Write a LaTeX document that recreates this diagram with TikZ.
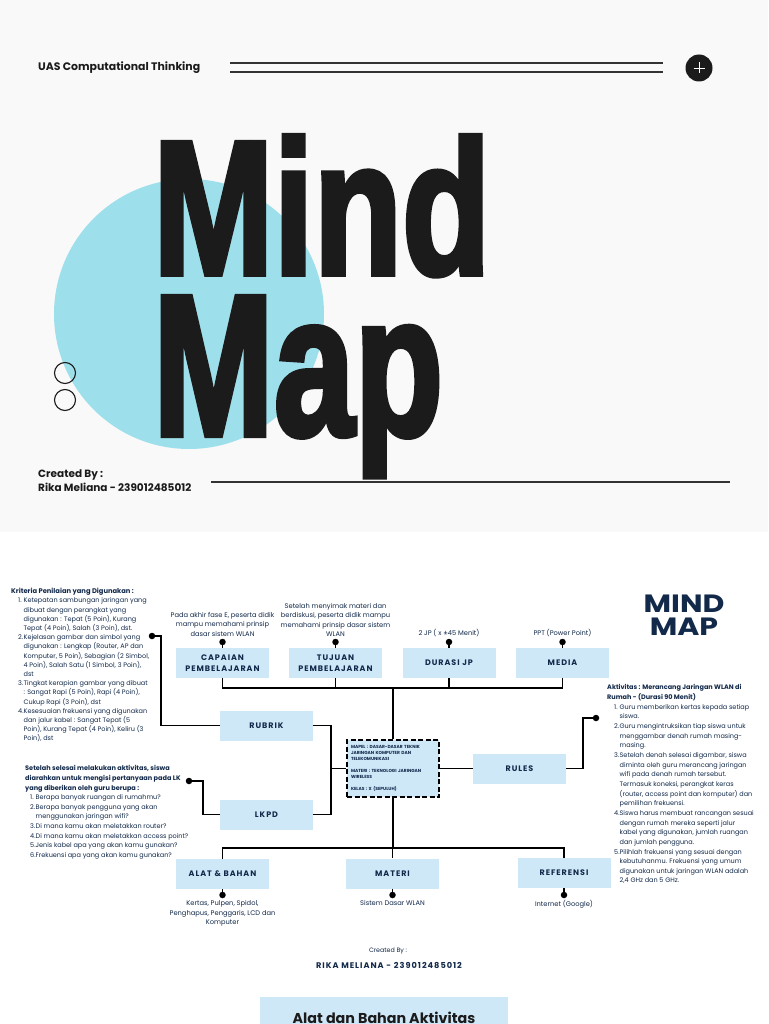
\documentclass[tikz,border=0pt]{standalone}
\usepackage{fontspec}
\setmainfont{Poppins}
\newfontfamily\trackfont{Poppins}[LetterSpace=12]
\newfontfamily\blockfont{Liberation Sans}[FakeBold=3]
\usetikzlibrary{positioning, calc}
\definecolor{navy}{HTML}{12294A}
\definecolor{boxblue}{HTML}{CFE8F8}
\definecolor{discblue}{HTML}{9DE0EC}
\definecolor{coverbg}{HTML}{F9F9F9}
\definecolor{inkblack}{HTML}{1B1B1B}
\definecolor{rulegrey}{HTML}{333333}
\newcommand\labelsize{\fontsize{8}{10.5}\selectfont}
\newcommand\notesize{\fontsize{6.7}{9.3}\selectfont}
\newcommand\coresize{\fontsize{4.4}{6}\selectfont}

\begin{document}
\begin{tikzpicture}[x=1pt, y=-1pt,
    topic/.style={fill=boxblue, minimum width=93pt, minimum height=30pt,
      inner sep=0pt, align=center, text=navy, font=\trackfont\bfseries\labelsize},
    core/.style={fill=boxblue, draw=black, line width=2pt,
      dash pattern=on 5pt off 2.5pt, minimum width=92pt, minimum height=57pt,
      text width=84pt, align=left, inner sep=0pt, text=navy,
      font=\bfseries\coresize},
    link/.style={black, line width=1.6pt},
    knob/.style={circle, fill=black, inner sep=0pt, minimum size=6.5pt},
    note/.style={text=navy, align=center, inner sep=0pt, font=\notesize},
    block/.style={text=navy, inner sep=0pt, anchor=north west}]
  \clip (0,0) rectangle (768,1024);
  \fill[white] (0,0) rectangle (768,1024);

  % cover page
  \fill[coverbg] (0,0) rectangle (768,532);
  \node[anchor=west, inner sep=0pt, text=inkblack,
    font=\bfseries\fontsize{10.9}{12}\selectfont] (course) at (38,68)
    {UAS Computational Thinking};
  \foreach \ry in {63,72}{%
    \draw[rulegrey, line width=1.8pt] (230,\ry) -- (663,\ry);}
  \node[circle, fill=inkblack, minimum size=27pt, inner sep=0pt] (plus) at (699,68) {};
  \draw[white, line width=0.6pt] ($(plus)+(-5.5,0)$) -- ($(plus)+(5.5,0)$);
  \draw[white, line width=0.6pt] ($(plus)+(0,-5.5)$) -- ($(plus)+(0,5.5)$);
  \fill[discblue] (189,314) circle[radius=135];
  \foreach \cy in {373,400}{%
    \draw[inkblack, line width=1.1pt] (65,\cy) circle[radius=10.5];}
  \node[anchor=base west, inner sep=0pt, text=inkblack] (mind) at (153,274)
    {\resizebox{337pt}{138pt}{\blockfont\bfseries Mind}};
  \node[anchor=base west, inner sep=0pt, text=inkblack] (map) at (153,435)
    {\resizebox{290pt}{138pt}{\blockfont\bfseries Map}};
  \node[anchor=west, inner sep=0pt, align=left, text=inkblack,
    font=\bfseries\fontsize{10.5}{14}\selectfont] (author) at (38,481)
    {Created By :\\Rika Meliana - 239012485012};
  \draw[rulegrey, line width=1.5pt] (211,482) -- (730,482);

  % mind map page
  \node[align=center, inner sep=0pt, text=navy,
    font=\bfseries\fontsize{25}{23}\selectfont] (title) at (684,615)
    {\scalebox{1.2}[1]{MIND}\\\scalebox{1.2}[1]{MAP}};

  \node[topic] (capaian) at (222.5,663) {CAPAIAN\\PEMBELAJARAN};
  \node[topic] (tujuan) at (335.5,663) {TUJUAN\\PEMBELAJARAN};
  \node[topic] (durasi) at (449,663) {DURASI JP};
  \node[topic] (media) at (562.5,663) {MEDIA};
  \node[knob] (capdot) at (222.5,642) {};
  \node[knob] (tujdot) at (335.5,642) {};
  \node[knob] (durdot) at (449,642) {};
  \node[knob] (meddot) at (562.5,642) {};
  \node[note, above=2pt of capdot] (capnote)
    {Pada akhir fase E, peserta didik\\mampu memahami prinsip\\dasar sistem WLAN};
  \node[note, above=2pt of tujdot] (tujnote)
    {Setelah menyimak materi dan\\berdiskusi, peserta didik mampu\\memahami prinsip dasar sistem\\WLAN};
  \node[note, above=2pt of durdot] (durnote) {2 JP ( x ±45 Menit)};
  \node[note, above=2pt of meddot] (mednote) {PPT (Power Point)};
  \foreach \d/\b in {capdot/capaian, tujdot/tujuan, durdot/durasi, meddot/media}{%
    \draw[link] (\d.center) -- (\b.north);}

  \node[core] (core) at (393,768.5)
    {MAPEL : DASAR-DASAR TEKNIK\\JARINGAN KOMPUTER DAN\\TELEKOMUNIKASI\\[6pt]
     MATERI : TEKNOLOGI JARINGAN\\WIRELESS\\[6pt]KELAS : X (SEPULUH)};
  \coordinate (topbus) at (393,688);
  \draw[link] (capaian.south) -- (capaian.south |- topbus)
    -- (media.south |- topbus) -- (media.south);
  \draw[link] (tujuan.south) -- (tujuan.south |- topbus);
  \draw[link] (durasi.south) -- (durasi.south |- topbus);
  \draw[link] (topbus) -- (core.north);

  \node[topic] (rubrik) at (266.5,725.5) {RUBRIK};
  \node[topic] (lkpd) at (266.5,814.5) {LKPD};
  \node[topic] (rules) at (519.5,768.5) {RULES};
  \coordinate (ljoint) at (331,768.5);
  \draw[link] (rubrik.east) -| (ljoint) |- (lkpd.east);
  \draw[link] (ljoint) -- (core.west);
  \draw[link] (core.east) -- (rules.west);

  \node[knob] (rubdot) at (152,636) {};
  \node[knob] (lkdot) at (189,781) {};
  \node[knob] (ruldot) at (596,718) {};
  \draw[link] (rubdot.center) -- ++(9,0) |- (rubrik.west);
  \draw[link] (lkdot.center) -- ++(14,0) |- (lkpd.west);
  \draw[link] (ruldot.center) -- ++(-13,0) |- (rules.east);

  \node[block, font=\fontsize{6.5}{9.2}\selectfont] (kriteria) at (11,587) {%
    \begin{tabular}{@{\hspace{7pt}}l@{}l@{}}
    \multicolumn{2}{@{}l@{}}{\bfseries\fontsize{6.75}{9.2}\selectfont Kriteria Penilaian yang Digunakan :}\\
    1.&Ketepatan sambungan jaringan yang\\
    &dibuat dengan perangkat yang\\
    &digunakan : Tepat (5 Poin), Kurang\\
    &Tepat (4 Poin), Salah (3 Poin), dst.\\
    2.&Kejelasan gambar dan simbol yang\\
    &digunakan : Lengkap (Router, AP dan\\
    &Komputer, 5 Poin), Sebagian (2 Simbol,\\
    &4 Poin), Salah Satu (1 Simbol, 3 Poin),\\
    &dst\\
    3.&Tingkat kerapian gambar yang dibuat\\
    &: Sangat Rapi (5 Poin), Rapi (4 Poin),\\
    &Cukup Rapi (3 Poin), dst\\
    4.&Kesesuaian frekuensi yang digunakan\\
    &dan jalur kabel : Sangat Tepat (5\\
    &Poin), Kurang Tepat (4 Poin), Keliru (3\\
    &Poin), dst
    \end{tabular}};
  \node[block, font=\fontsize{6.5}{9.6}\selectfont] (lkquest) at (25,764) {%
    \begin{tabular}{@{\hspace{5pt}}l@{}l@{}}
    \multicolumn{2}{@{}l@{}}{\bfseries\fontsize{6.55}{9.6}\selectfont Setelah selesai melakukan aktivitas, siswa}\\
    \multicolumn{2}{@{}l@{}}{\bfseries\fontsize{6.55}{9.6}\selectfont diarahkan untuk mengisi pertanyaan pada LK}\\
    \multicolumn{2}{@{}l@{}}{\bfseries\fontsize{6.55}{9.6}\selectfont yang diberikan oleh guru berupa :}\\
    1.&Berapa banyak ruangan di rumahmu?\\
    2.&Berapa banyak pengguna yang akan\\
    &menggunakan jaringan wifi?\\
    3.&Di mana kamu akan meletakkan router?\\
    4.&Di mana kamu akan meletakkan access point?\\
    5.&Jenis kabel apa yang akan kamu gunakan?\\
    6.&Frekuensi apa yang akan kamu gunakan?
    \end{tabular}};
  \node[block, font=\fontsize{6.5}{9.65}\selectfont] (aktivitas) at (607,683) {%
    \begin{tabular}{@{\hspace{7pt}}l@{}l@{}}
    \multicolumn{2}{@{}l@{}}{\bfseries Aktivitas : Merancang Jaringan WLAN di}\\
    \multicolumn{2}{@{}l@{}}{\bfseries Rumah - (Durasi 90 Menit)}\\
    1.&Guru memberikan kertas kepada setiap\\
    &siswa.\\
    2.&Guru mengintruksikan tiap siswa untuk\\
    &menggambar denah rumah masing-\\
    &masing.\\
    3.&Setelah denah selesai digambar, siswa\\
    &diminta oleh guru merancang jaringan\\
    &wifi pada denah rumah tersebut.\\
    &Termasuk koneksi, perangkat keras\\
    &(router, access point dan komputer) dan\\
    &pemilihan frekuensi.\\
    4.&Siswa harus membuat rancangan sesuai\\
    &dengan rumah mereka seperti jalur\\
    &kabel yang digunakan, jumlah ruangan\\
    &dan jumlah pengguna.\\
    5.&Pilihlah frekuensi yang sesuai dengan\\
    &kebutuhanmu. Frekuensi yang umum\\
    &digunakan untuk jaringan WLAN adalah\\
    &2,4 GHz dan 5 GHz.
    \end{tabular}};

  \node[topic] (alat) at (222.5,874) {ALAT \& BAHAN};
  \node[topic] (materi) at (392.5,873.5) {MATERI};
  \node[topic] (referensi) at (564,873) {REFERENSI};
  \coordinate (botbus) at (393,848);
  \draw[link] (core.south) -- (botbus);
  \draw[link] (alat.north) -- (alat.north |- botbus)
    -- (referensi.north |- botbus) -- (referensi.north);
  \draw[link] (materi.north |- botbus) -- (materi.north);
  \node[knob] (alatdot) at (222.5,895) {};
  \node[knob] (matdot) at (392.5,895) {};
  \node[knob] (refdot) at (564,895) {};
  \foreach \b/\d in {alat/alatdot, materi/matdot, referensi/refdot}{%
    \draw[link] (\b.south) -- (\d.center);}
  \node[note, below=2pt of alatdot] (alatnote)
    {Kertas, Pulpen, Spidol,\\Penghapus, Penggaris, LCD dan\\Komputer};
  \node[note, below=2pt of matdot] (matnote) {Sistem Dasar WLAN};
  \node[note, below=2pt of refdot] (refnote) {Internet (Google)};

  \node[text=navy, inner sep=0pt, font=\fontsize{6.3}{7}\selectfont] (madeby) at (388,951)
    {Created By :};
  \node[text=navy, inner sep=0pt, font=\trackfont\bfseries\fontsize{8.2}{9}\selectfont]
    (maker) at (389,965) {RIKA MELIANA - 239012485012};
  \node[fill=boxblue, minimum width=248pt, minimum height=42pt, inner sep=0pt,
    text=inkblack, font=\bfseries\fontsize{14.3}{16}\selectfont] (akt) at (384,1018)
    {Alat dan Bahan Aktivitas};
\end{tikzpicture}
\end{document}
